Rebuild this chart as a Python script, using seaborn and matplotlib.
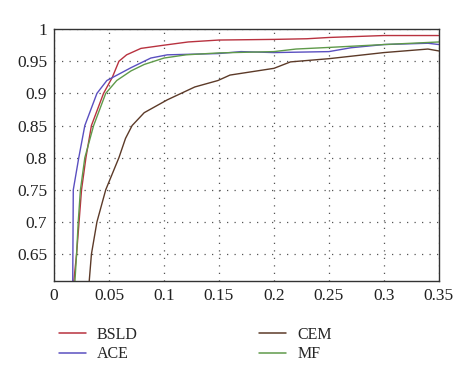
import matplotlib
matplotlib.use("Agg")
import matplotlib.pyplot as plt
import seaborn as sns
import pandas as pd

# curves (false alarm rate vs detection rate)
bsld_x = [0.018, 0.0205, 0.025, 0.029, 0.034, 0.045, 0.053, 0.059, 0.066, 0.079, 0.10, 0.122, 0.15, 0.20, 0.23, 0.25, 0.30, 0.35]
bsld_y = [0.608, 0.65, 0.75, 0.80, 0.85, 0.90, 0.925, 0.95, 0.96, 0.97, 0.975, 0.98, 0.983, 0.984, 0.985, 0.987, 0.990, 0.990]

ace_x = [0.017, 0.0175, 0.0225, 0.028, 0.039, 0.048, 0.07, 0.088, 0.103, 0.15, 0.17, 0.20, 0.25, 0.27, 0.30, 0.34, 0.35]
ace_y = [0.608, 0.75, 0.80, 0.85, 0.90, 0.92, 0.94, 0.955, 0.96, 0.962, 0.965, 0.9635, 0.965, 0.971, 0.976, 0.978, 0.976]

mf_x = [0.019, 0.0205, 0.022, 0.024, 0.028, 0.036, 0.047, 0.057, 0.07, 0.082, 0.10, 0.12, 0.15, 0.20, 0.22, 0.25, 0.30, 0.35]
mf_y = [0.608, 0.65, 0.70, 0.75, 0.80, 0.85, 0.90, 0.92, 0.935, 0.945, 0.955, 0.96, 0.963, 0.965, 0.969, 0.9715, 0.976, 0.98]

cem_x = [0.032, 0.034, 0.039, 0.047, 0.053, 0.059, 0.065, 0.071, 0.082, 0.103, 0.128, 0.149, 0.16, 0.20, 0.215, 0.25, 0.30, 0.34, 0.35]
cem_y = [0.608, 0.65, 0.70, 0.75, 0.775, 0.80, 0.83, 0.85, 0.87, 0.89, 0.91, 0.92, 0.9285, 0.939, 0.949, 0.954, 0.9635, 0.969, 0.966]

methods = ["BSLD", "ACE", "CEM", "MF"]
colors = {"BSLD": "#b8323f", "ACE": "#5a4fc0", "CEM": "#5c3a28", "MF": "#5f9a4a"}

frames = []
for name, xs, ys in [("BSLD", bsld_x, bsld_y), ("ACE", ace_x, ace_y),
                     ("CEM", cem_x, cem_y), ("MF", mf_x, mf_y)]:
    frames.append(pd.DataFrame({"x": xs, "y": ys, "method": name}))
df = pd.concat(frames, ignore_index=True)

sns.set_style("white")
plt.rcParams["font.family"] = ["Liberation Serif", "DejaVu Serif"]

fig = plt.figure(figsize=(4.74, 3.83), dpi=100)
ax = fig.add_axes([0.114, 0.266, 0.812, 0.658])

sns.lineplot(data=df, x="x", y="y", hue="method", hue_order=methods,
             palette=colors, sort=False, estimator=None, linewidth=1.0,
             legend=False, ax=ax)

ax.set_xlim(0, 0.35)
ax.set_ylim(0.608, 1)
ax.set_xticks([0, 0.05, 0.1, 0.15, 0.2, 0.25, 0.3, 0.35])
ax.set_xticklabels(["0", "0.05", "0.1", "0.15", "0.2", "0.25", "0.3", "0.35"])
ax.set_yticks([0.65, 0.7, 0.75, 0.8, 0.85, 0.9, 0.95, 1])
ax.set_yticklabels(["0.65", "0.7", "0.75", "0.8", "0.85", "0.9", "0.95", "1"])
ax.set_xlabel("")
ax.set_ylabel("")
ax.grid(True, linestyle=(0, (1, 5)), color="#555555", linewidth=0.9)
ax.tick_params(direction="in", length=5, labelsize=12.5, colors="#222222", pad=5)
for s in ax.spines.values():
    s.set_color("#333333")
    s.set_linewidth(1.0)

handles = [plt.Line2D([], [], color=colors[m], linewidth=1.1) for m in methods]
fig.legend(handles, methods, loc="upper left", bbox_to_anchor=(0.11, 0.163),
           ncol=2, frameon=False, fontsize=11.5, columnspacing=7.6,
           handlelength=1.7, handletextpad=0.7, labelspacing=0.2,
           borderaxespad=0)

fig.savefig("out.png", dpi=100)
